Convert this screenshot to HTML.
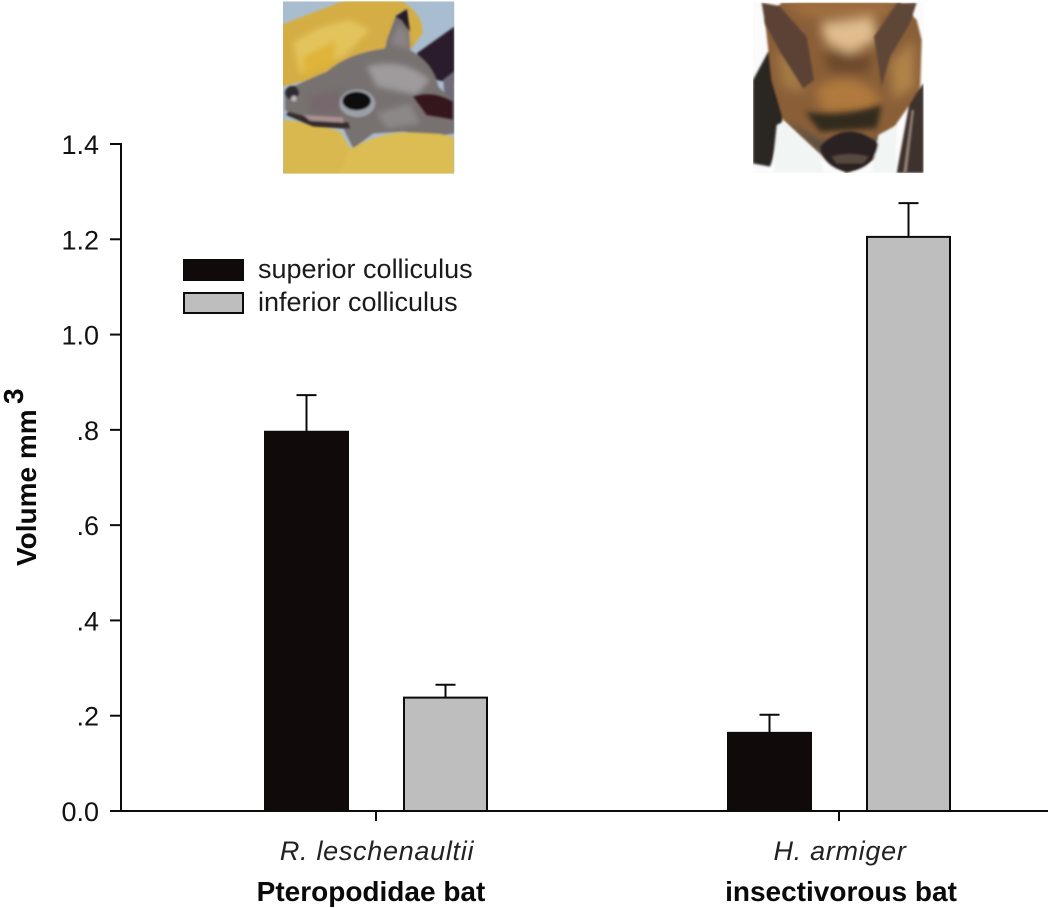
<!DOCTYPE html>
<html lang="en">
<head>
<meta charset="utf-8">
<title>Colliculus volume in two bats</title>
<style>
html,body{margin:0;padding:0;background:#fff;width:1050px;height:908px;overflow:hidden}
svg{display:block;font-family:"Liberation Sans",Arial,sans-serif}
</style>
</head>
<body>
<svg id="chart" xmlns="http://www.w3.org/2000/svg" width="1050" height="908" viewBox="0 0 1050 908">
<defs>
<filter id="soft" x="-5%" y="-5%" width="110%" height="110%"><feGaussianBlur stdDeviation="9"/></filter>
<filter id="soft2" x="-5%" y="-5%" width="110%" height="110%"><feGaussianBlur stdDeviation="3.5"/></filter>
<filter id="soft3" x="-5%" y="-5%" width="110%" height="110%"><feGaussianBlur stdDeviation="16"/></filter>
<clipPath id="clipA"><rect x="39" y="4" width="514" height="517"/></clipPath>
<clipPath id="clipB"><rect x="39" y="8" width="512" height="511"/></clipPath>
</defs>
<rect width="1050" height="908" fill="#fff"/>

<g id="photo-a" transform="translate(270,0) scale(.33333)" clip-path="url(#clipA)">
 <rect x="39" y="4" width="514" height="517" fill="#a9bdd0"/>
 <g filter="url(#soft2)">
  <path d="M20 80 Q120 40 230 0 L390 0 Q460 40 458 100 L425 145 L300 170 L150 230 L40 260 L20 260Z" fill="#d4ae45"/>
  <path d="M440 160 L553 80 L553 250 L500 240Z" fill="#2a1c2a"/>
  <path d="M520 240 L553 215 L553 400 L530 390Z" fill="#6f6a78"/>
  <path d="M45 272 Q120 235 170 215 Q230 160 345 145 L352 115 L378 45 L412 28 L420 150 Q490 190 505 260 L545 300 L552 400 L500 410 L400 395 L310 400 L250 445 L220 385 L120 375 L45 330Z" fill="#77716f"/>
  <path d="M39 360 Q130 365 210 395 L245 450 L210 525 L39 525Z" fill="#d9b94f"/>
  <path d="M210 525 L238 450 Q330 392 430 398 L510 402 L553 412 L553 525Z" fill="#dcbd52"/>
 </g>
 <g filter="url(#soft)">
  <path d="M70 130 Q130 80 240 60 L300 90 L220 170 L90 220Z" fill="#e3c45c"/>
  <path d="M100 170 L200 120 L190 190 L100 230Z" fill="#e0b437"/>
  <path d="M290 200 Q400 170 480 240 L440 285 L320 260Z" fill="#9f9a9c"/>
  <path d="M360 130 L385 75 L412 95 L418 150Z" fill="#8b8385"/>
  <path d="M320 340 L420 310 L450 370 L350 385Z" fill="#8d8888"/>
  <path d="M120 290 L210 270 L210 340 L120 340Z" fill="#76686c"/>
 </g>
 <g filter="url(#soft2)">
  <path d="M378 50 L410 28 L420 95 L395 60Z" fill="#241c22"/>
  <path d="M430 290 Q490 270 548 305 L548 358 L470 345Z" fill="#34171a"/>
  <path d="M55 335 Q150 365 235 368 L240 385 L130 380 L48 345Z" fill="#352a2c"/>
  <path d="M100 345 L220 352 L220 368 L120 362Z" fill="#a98f90"/>
  <ellipse cx="262" cy="310" rx="54" ry="42" fill="#9ba0a8"/>
  <ellipse cx="260" cy="303" rx="43" ry="28" fill="#0c0a0e"/>
  <circle cx="66" cy="278" r="20" fill="#2e2a30"/>
  <circle cx="72" cy="296" r="9" fill="#b9b4ba"/>
 </g>
</g>

<g id="photo-b" transform="translate(740,0) scale(.33333)" clip-path="url(#clipB)">
 <rect x="39" y="8" width="512" height="511" fill="#fbfbfb"/>
 <g filter="url(#soft2)">
  <path d="M39 240 L90 145 L130 300 L125 400 L90 500 L39 490Z" fill="#2c2524"/>
  <path d="M470 519 L510 300 L551 250 L551 519Z" fill="#3c312d"/>
  <path d="M125 8 L480 8 L530 60 L545 120 L540 260 L505 320 L470 370 L420 470 L320 519 L240 460 L130 360 L95 240 L75 60Z" fill="#8a5f38"/>
 </g>
 <g filter="url(#soft3)">
  <path d="M240 70 L400 50 L410 120 L330 160 L260 130Z" fill="#e0bd8d"/>
  <path d="M130 10 L470 10 L440 40 L200 50Z" fill="#a57240"/>
  <path d="M225 270 Q290 215 380 255 L425 300 L385 330 L250 335Z" fill="#b07a3c"/>
  <path d="M450 190 L520 120 L525 260 L460 300Z" fill="#b08348"/>
  <path d="M110 150 L180 180 L195 280 L125 260Z" fill="#a37a45"/>
  <path d="M250 150 L400 170 L380 220 L270 220Z" fill="#6d4a2c"/>
 </g>
 <g filter="url(#soft2)">
  <path d="M65 8 L118 18 L200 110 L222 240 L190 265 L120 155 L75 70Z" fill="#5b4236"/>
  <path d="M530 8 L470 10 L402 110 L425 260 L450 170 L510 70Z" fill="#5f4638"/>
 </g>
 <g filter="url(#soft)">
  <path d="M195 335 Q300 355 425 315 L410 385 L240 395Z" fill="#33291f"/>
  <path d="M140 360 L240 420 L400 420 L420 400 L400 450 L320 500 L240 460Z" fill="#5c5044"/>
 </g>
 <g filter="url(#soft2)">
  <path d="M110 375 L130 365 L240 465 L252 519 L105 519 L100 470Z" fill="#f1f5f3"/>
  <path d="M415 405 L470 375 L465 519 L395 519Z" fill="#f1f5f3"/>
  <path d="M240 440 Q320 355 415 430 Q405 505 320 516 Q250 500 240 440Z" fill="#2a2220"/>
  <path d="M275 470 Q330 455 385 470 L370 490 L290 490Z" fill="#57493f"/>
  <path d="M490 519 L515 330 L522 330 L500 519Z" fill="#9b8677"/>
 </g>
</g>
</svg>
<script>
// Chart data
const categories = ['R. leschenaultii', 'H. armiger'];
const groupLabels = ['Pteropodidae bat', 'insectivorous bat'];
const seriesNames = ['superior colliculus', 'inferior colliculus'];
const superiorValues = [0.796, 0.164];
const inferiorValues = [0.238, 1.205];
const superiorErrors = [0.077, 0.038];
const inferiorErrors = [0.027, 0.071];
const yTickValues = [0, 0.2, 0.4, 0.6, 0.8, 1.0, 1.2, 1.4];
const yTickLabels = ['0.0', '.2', '.4', '.6', '.8', '1.0', '1.2', '1.4'];

const NS = 'http://www.w3.org/2000/svg';
const svg = document.getElementById('chart');
const INK = '#0d0a0a';
const DARK = '#100a0a';
const GREY = '#bebebe';
const Y0 = 811, Y1 = 144, YMAX = 1.4;
const yScale = function (v) { return Y0 - (v / YMAX) * (Y0 - Y1); };
const groupCentre = function (i) { return 376 + i * 463; };
const BAR_W = 83;

function make(tag, attrs, text) {
  const el = document.createElementNS(NS, tag);
  for (const k in attrs) el.setAttribute(k, attrs[k]);
  if (text !== undefined) el.textContent = text;
  svg.appendChild(el);
  return el;
}
function line(x1, y1, x2, y2, w) {
  return make('line', { x1: x1, y1: y1, x2: x2, y2: y2, stroke: INK, 'stroke-width': w || 2 });
}

// Error bars, drawn first so the bars cover their base
function drawSeries(values, errors, offset, fill, key) {
  values.forEach(function (v, i) {
    const x = groupCentre(i) + offset;
    const top = yScale(v);
    const errTop = yScale(v + errors[i]);
    const stem = line(x + BAR_W / 2, top, x + BAR_W / 2, errTop, 2);
    
    
    const cap = line(x + BAR_W / 2 - 10, errTop, x + BAR_W / 2 + 10, errTop, 2);
    
    
    const bar = make('rect', { x: x, y: top, width: BAR_W, height: Y0 - top, fill: fill, stroke: INK, 'stroke-width': 2 });
    
    
  });
}
drawSeries(superiorValues, superiorErrors, -111, DARK, 'superior-colliculus');
drawSeries(inferiorValues, inferiorErrors, 28, GREY, 'inferior-colliculus');

// Axes
const yAxis = line(121, Y1 - 1, 121, Y0 + 1, 2);


const xAxis = line(110, Y0, 1048, Y0, 2);



yTickValues.forEach(function (v, i) {
  const y = yScale(v);
  const tick = line(110, y, 121, y, 2);
  
  
  const label = make('text', { x: 99, y: y + 10, 'text-anchor': 'end', 'font-size': 27, fill: '#111' }, yTickLabels[i]);
  
  
});

categories.forEach(function (c, i) {
  const x = groupCentre(i);
  const tick = line(x, Y0, x, Y0 + 10, 2);
  
  
  const cat = make('text', { x: x + 1, y: 860, 'text-anchor': 'middle', 'font-size': 27, 'font-style': 'italic', fill: '#222', 'letter-spacing': '0.7' }, c);
  
  
  const grp = make('text', { x: x + (i ? 2 : -5), y: 901, 'text-anchor': 'middle', 'font-size': 28, 'font-weight': 'bold', fill: '#0a0a0a' }, groupLabels[i]);
  
  
});

// Y axis title
const title = make('text', { transform: 'translate(36,566) rotate(-90)', 'font-size': 28, 'font-weight': 'bold', fill: '#0a0a0a' }, 'Volume mm');


const sup = make('text', { transform: 'translate(23,404) rotate(-90)', 'font-size': 28, 'font-weight': 'bold', fill: '#0a0a0a' }, '3');



// Legend
const legendFills = [DARK, GREY];
seriesNames.forEach(function (n, i) {
  const y = 260 + i * 33;
  const swatch = make('rect', { x: 184, y: y, width: 59, height: 20, fill: legendFills[i], stroke: INK, 'stroke-width': 2 });
  
  
  const label = make('text', { x: 258, y: y + 18, 'font-size': 27, fill: '#1a1a1a' }, n);
  
  
});
</script>
</body>
</html>
